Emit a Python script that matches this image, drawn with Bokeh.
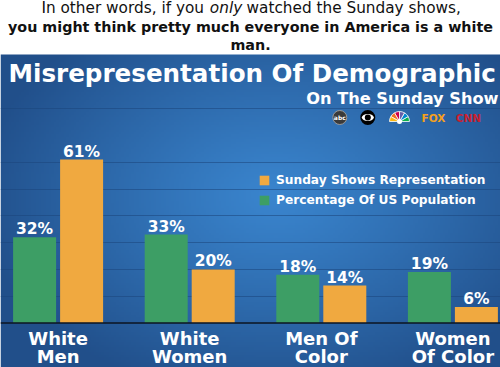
import numpy as np
from bokeh.plotting import figure
from bokeh.models import (ColumnDataSource, Range1d, Label, Span, Grid, FixedTicker,
                          Legend, LegendItem)
from bokeh.transform import dodge
from bokeh.core.properties import value
from bokeh.embed import file_html
from bokeh.resources import INLINE

# ---------------- data ----------------
categories = ["White\nMen", "White\nWomen", "Men Of\nColor", "Women\nOf Color"]
us_population = [32, 33, 18, 19]          # Percentage Of US Population (green)
sunday_shows = [61, 20, 14, 6]            # Sunday Shows Representation (orange)
series_names = ["Sunday Shows Representation", "Percentage Of US Population"]
grid_ticks = [10, 20, 30, 40, 50, 60, 80]

caption_1 = ["In other words, if you", "only", "watched the Sunday shows,"]
caption_2 = "you might think pretty much everyone in America is a white"
caption_3 = "man."
title_text = "Misrepresentation Of Demographic"
subtitle_text = "On The Sunday Show"

GREEN = "#3d9e65"
ORANGE = "#f0a940"
FONT = "DejaVu Sans"

W, H = 500, 367

# reference-pixel -> data helpers (used only for decorations)
PITCH = 131.6
C0 = 57.6
PXPCT = 2.68
BASE = 322.5


def dx(rx):
    return (rx - C0) / PITCH


def dy(ry):
    return (BASE - ry) / PXPCT


x0, x1 = dx(0), dx(W)
y0, y1 = dy(H), dy(0)

p = figure(width=W, height=H, output_backend="svg", toolbar_location=None,
           x_range=Range1d(x0, x1), y_range=Range1d(y0, y1),
           x_axis_location=None, y_axis_location=None,
           min_border=0, min_border_left=0, min_border_right=0,
           min_border_top=0, min_border_bottom=0)
p.outline_line_color = None
p.background_fill_color = "white"
p.border_fill_color = "white"
p.grid.visible = False

# ---------------- gradient background ----------------
top_blue = 54.0
NX, NY = 200, 126
rx = (np.arange(NX) + 0.5) * W / NX
ry = H - (np.arange(NY) + 0.5) * (H - top_blue) / NY
RX, RY = np.meshgrid(rx, ry)
t = np.sqrt(((RX - 275) / 300.0) ** 2 + ((RY - 195) / 205.0) ** 2)
t = np.clip(t, 0, 1) ** 1.15
c_in = np.array([58, 133, 206])
c_out = np.array([33, 79, 138])
rgb = c_in[None, None, :] * (1 - t[..., None]) + c_out[None, None, :] * t[..., None]
img = np.empty((NY, NX), dtype=np.uint32)
view = img.view(dtype=np.uint8).reshape((NY, NX, 4))
view[..., 0] = rgb[..., 0].astype(np.uint8)
view[..., 1] = rgb[..., 1].astype(np.uint8)
view[..., 2] = rgb[..., 2].astype(np.uint8)
view[..., 3] = 255
p.image_rgba(image=[img], x=x0, y=y0, dw=x1 - x0, dh=dy(top_blue) - y0, level="image")

grid = Grid(dimension=1, ticker=FixedTicker(ticks=grid_ticks), grid_line_color="#1b467c",
            grid_line_alpha=0.55, grid_line_width=1, level="underlay")
p.add_layout(grid)

# ---------------- bars ----------------
idx = list(range(len(categories)))
src = ColumnDataSource(dict(
    x=idx, pop=us_population, sun=sunday_shows,
    pop_lbl=[f"{v}%" for v in us_population],
    sun_lbl=[f"{v}%" for v in sunday_shows],
    line1=[c.split("\n")[0] for c in categories],
    line2=[c.split("\n")[1] for c in categories],
))
OFF = 23.5 / PITCH
BW = 43.0 / PITCH
r_green = p.vbar(x=dodge("x", -OFF), top="pop", bottom=0, width=BW, source=src,
                 fill_color=GREEN, line_color=None)
r_orange = p.vbar(x=dodge("x", OFF), top="sun", bottom=0, width=BW, source=src,
                  fill_color=ORANGE, line_color=None)

p.add_layout(Span(location=0, dimension="width", line_color="#0d1420", line_width=1.5))

MID = 0.35  # cap-centre above the baseline, in em
for col, off, ycol in (("pop_lbl", -OFF, "pop"), ("sun_lbl", OFF, "sun")):
    p.text(x=dodge("x", off), y=ycol, text=col, source=src, text_align="center",
           text_baseline="middle", y_offset=-(2.5 + MID * 15.5), text_color="white",
           text_font=value(FONT), text_font_style="bold", text_font_size="15.5px")

p.text(x="x", y=0, text="line1", source=src, text_align="center", text_baseline="middle",
       y_offset=22 - MID * 18, text_color="white", text_font=value(FONT), text_font_style="bold",
       text_font_size="18px")
p.text(x="x", y=0, text="line2", source=src, text_align="center", text_baseline="middle",
       y_offset=40.2 - MID * 18, text_color="white", text_font=value(FONT), text_font_style="bold",
       text_font_size="18px")

# ---------------- legend ----------------
legend = Legend(items=[LegendItem(label=series_names[0], renderers=[r_orange]),
                       LegendItem(label=series_names[1], renderers=[r_green])],
                location=(258, 160), orientation="vertical",
                background_fill_alpha=0, border_line_alpha=0, padding=0, margin=0,
                spacing=6, glyph_width=12, glyph_height=12, label_height=12,
                label_standoff=6, label_text_color="white", label_text_font=FONT,
                label_text_font_style="bold", label_text_font_size="12.2px",
                label_text_baseline="middle")
p.add_layout(legend)

# ---------------- texts ----------------
def lab(text, rx, ry, size, style="bold", align="left", color="white"):
    # ry is the wanted baseline (px from top); draw with a middle baseline
    p.add_layout(Label(x=rx, y=H - (ry - MID * size), x_units="screen", y_units="screen",
                       text=text, text_font=FONT, text_font_size=f"{size}px",
                       text_font_style=style, text_color=color, text_align=align,
                       text_baseline="middle"))

lab(caption_1[0], 203.5, 13.2, 15.3, "normal", "right", "#111111")
lab(caption_1[1], 225.5, 13.2, 15.3, "italic", "center", "#111111")
lab(caption_1[2], 246, 13.2, 15.3, "normal", "left", "#111111")
lab(caption_2, 250, 31.3, 14.3, "bold", "center", "#111111")
lab(caption_3, 250, 49.7, 14.3, "bold", "center", "#111111")
lab(title_text, 8, 81.5, 24.6, "bold", "left")
lab(subtitle_text, 498, 103.3, 16.2, "bold", "right")

# ---------------- network logos (decoration) ----------------
ly = dy(117)
# abc
p.scatter(x=[dx(339.3)], y=[ly], size=14, fill_color="#3a3a3a", line_color="#9a9a9a", line_width=1)
p.text(x=[dx(339.3)], y=[ly], text=["abc"], text_align="center", text_baseline="middle",
       text_color="white", text_font=value(FONT), text_font_style="bold", text_font_size="6px")
# CBS eye
p.scatter(x=[dx(367.3)], y=[ly], size=15, fill_color="black", line_color=None)
p.ellipse(x=[dx(367.3)], y=[ly], width=12, height=7, width_units="screen", height_units="screen",
          fill_color="white", line_color=None)
p.scatter(x=[dx(367.3)], y=[ly], size=6, fill_color="black", line_color=None)
# NBC peacock
nbc_cols = ["#0db14b", "#0089d0", "#6460aa", "#cc004c", "#f37021", "#fcb711"]
angs = np.linspace(0, np.pi, 7)
p.wedge(x=[dx(399)] * 6, y=[dy(121)] * 6, radius=10, radius_units="screen",
        start_angle=list(angs[:-1]), end_angle=list(angs[1:]),
        fill_color=nbc_cols, line_color="white", line_width=0.8)
p.scatter(x=[dx(399)], y=[dy(121)], size=5, fill_color="white", line_color=None)
# FOX / CNN
p.text(x=[dx(433)], y=[ly], text=["FOX"], text_align="center", text_baseline="middle",
       text_color="#f4a020", text_font=value(FONT), text_font_style="bold", text_font_size="10.5px")
p.text(x=[dx(468)], y=[ly], text=["CNN"], text_align="center", text_baseline="middle",
       text_color="#c8202f", text_font=value(FONT), text_font_style="bold", text_font_size="10.5px")

open("out.html", "w").write(file_html(p, INLINE))
